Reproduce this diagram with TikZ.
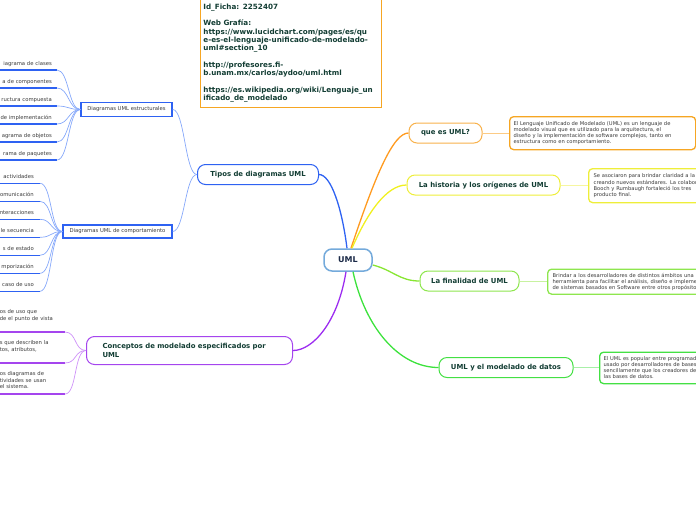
\documentclass[tikz,border=0pt]{standalone}
\usepackage{fontspec}
\setmainfont{DejaVu Sans}
\definecolor{titlec}{HTML}{123D33}
\definecolor{umltext}{HTML}{1B2A48}
\definecolor{descc}{HTML}{3A3A3A}
\definecolor{orgL}{HTML}{FF9A1F}
\definecolor{orgB}{HTML}{F8B24C}
\definecolor{orgD}{HTML}{F6A623}
\definecolor{orgS}{HTML}{FCCB85}
\definecolor{yelL}{HTML}{F0F020}
\definecolor{yelB}{HTML}{EEEE3A}
\definecolor{yelS}{HTML}{F6F6A0}
\definecolor{lgrL}{HTML}{88E632}
\definecolor{lgrB}{HTML}{8EE64E}
\definecolor{lgrS}{HTML}{C8F2A0}
\definecolor{grnL}{HTML}{3CE23C}
\definecolor{grnB}{HTML}{44E044}
\definecolor{grnS}{HTML}{A8F0A8}
\definecolor{bluL}{HTML}{2E62F2}
\definecolor{bluB}{HTML}{2E62F2}
\definecolor{bluS}{HTML}{86A8FA}
\definecolor{purL}{HTML}{9C2CF0}
\definecolor{purB}{HTML}{A545EE}
\definecolor{purS}{HTML}{CE92F8}
\definecolor{umlB}{HTML}{74AADB}
\begin{document}
\begin{tikzpicture}[x=1pt,y=-1pt,
  topic/.style={draw, rounded corners=8pt, line width=1pt, fill=white, text=titlec,
    font=\fontsize{6.9}{9.3}\selectfont\bfseries, inner sep=0pt, minimum height=20pt},
  desc/.style={draw, rounded corners=4pt, line width=1.3pt, fill=white, text=descc,
    font=\fontsize{5.2}{6.1}\selectfont, align=left, anchor=north west, inner xsep=4pt, inner ysep=0pt},
  subtopic/.style={draw=bluB, line width=1.4pt, fill=white, text=descc,
    font=\fontsize{5.3}{6.3}\selectfont, inner sep=0pt},
  bleaf/.style={anchor=south east, inner xsep=5pt, inner ysep=3pt, text height=4pt, text depth=1.3pt,
    text width=80pt, align=right, text=descc, font=\fontsize{5.3}{6.3}\selectfont},
  pleaf/.style={anchor=south east, inner xsep=5pt, inner ysep=3pt,
    text width=60pt, align=left, text=descc, font=\fontsize{5.3}{6.5}\selectfont},
  mainline/.style={line width=1.3pt},
  subline/.style={line width=1pt},
  leafline/.style={line width=0.7pt},
  uline/.style={line width=1.6pt}]
\useasboundingbox (0,0) rectangle (696,520);
\clip (0,0) rectangle (696,520);

% info box
\node[draw=orgD, line width=0.8pt, fill=white, anchor=south west, text width=175pt, align=left,
  inner xsep=3pt, inner ysep=5pt, text=titlec, font=\fontsize{7.2}{8.35}\selectfont\bfseries] (info) at (200,108)
  {Id\_Ficha: 2252407\\[8.35pt]
   Web Grafía:\\
   https://www.lucidchart.com/pages/es/qu\\
   e-es-el-lenguaje-unificado-de-modelado-\\
   uml\#section\_10\\[8.35pt]
   http://profesores.fi-\\
   b.unam.mx/carlos/aydoo/uml.html\\[8.35pt]
   https://es.wikipedia.org/wiki/Lenguaje\_un\\
   ificado\_de\_modelado};

% central node
\node[draw=umlB, line width=1.5pt, rounded corners=8pt, fill=white, text=umltext,
  font=\fontsize{8}{9}\selectfont\bfseries, minimum width=48pt, minimum height=22pt, inner sep=0pt] (uml) at (348,260) {UML};

% topics
\node[topic, draw=orgB, minimum width=73pt] (qes) at (445.5,133) {que es UML?};
\node[topic, draw=yelB, minimum width=153pt] (hist) at (483.5,185) {La historia y los orígenes de UML};
\node[topic, draw=lgrB, minimum width=99pt] (fin) at (469.5,281) {La finalidad de UML};
\node[topic, draw=grnB, minimum width=134pt] (mod) at (506,367.5) {UML y el modelado de datos};
\node[topic, draw=bluB, minimum width=121pt] (tipos) at (258,174.5) {Tipos de diagramas UML};
\node[topic, draw=purB, minimum width=206pt, minimum height=28pt, text width=174pt, align=left, inner xsep=16pt] (conc) at (189.5,350.5)
  {Conceptos de modelado especificados por\\UML};

% descriptions
\node[desc, draw=orgD, text width=178pt, minimum height=33pt] (qesd) at (509,116)
  {El Lenguaje Unificado de Modelado (UML) es un lenguaje de\\
   modelado visual que es utilizado para la arquitectura, el\\
   diseño y la implementación de software complejos, tanto en\\
   estructura como en comportamiento.};
\node[desc, draw=yelB, text width=200pt, minimum height=34pt, inner xsep=5pt] (histd) at (588,168)
  {Se asociaron para brindar claridad a la\\
   creando nuevos estándares. La colaboración\\
   Booch y Rumbaugh fortaleció los tres\\
   producto final.};
\node[desc, draw=lgrB, text width=200pt, minimum height=25pt, inner xsep=5pt] (find) at (547,268.5)
  {Brindar a los desarrolladores de distintos ámbitos una\\
   herramienta para facilitar el análisis, diseño e implementación\\
   de sistemas basados en Software entre otros propósitos};
\node[desc, draw=grnB, text width=200pt, minimum height=31.5pt] (modd) at (599,351.5)
  {El UML es popular entre programadores\\
   usado por desarrolladores de bases de datos\\
   sencillamente que los creadores de\\
   las bases de datos.};

% sub topics
\node[subtopic, minimum width=91pt, minimum height=13.5pt] (struct) at (126.5,109.5) {Diagramas UML estructurales};
\node[subtopic, minimum width=109pt, minimum height=13pt] (comp) at (117.5,231.5) {Diagramas UML de comportamiento};

% main connectors
\draw[mainline, draw=orgL] ([xshift=3pt]uml.north) .. controls +(25,-75) and +(-15,0) .. (qes.west);
\draw[mainline, draw=yelL] ([xshift=4pt]uml.north) .. controls +(15,-35) and +(-20,0) .. (hist.west);
\draw[mainline, draw=bluL] (tipos.east) .. controls +(12,0) and +(-5,-40) .. ([xshift=-1pt]uml.north);
\draw[mainline, draw=lgrL] ([yshift=-5pt]uml.east) .. controls +(20,5) and +(-20,0) .. (fin.west);
\draw[mainline, draw=grnL] ([xshift=5pt]uml.south) .. controls +(12,55) and +(-40,0) .. (mod.west);
\draw[mainline, draw=purL] ([xshift=-2pt]uml.south) .. controls +(-8,50) and +(20,0) .. (conc.east);

% secondary connectors
\draw[subline, draw=orgS] (qes.east) -- (qesd.west |- qes.east);
\draw[subline, draw=yelS] (hist.east) -- (histd.west |- hist.east);
\draw[subline, draw=lgrS] (fin.east) -- (find.west |- fin.east);
\draw[subline, draw=grnS] (mod.east) -- (modd.west |- mod.east);
\draw[leafline, draw=bluS] (tipos.west) .. controls +(-12,0) and +(12,0) .. (struct.east);
\draw[leafline, draw=bluS] (tipos.west) .. controls +(-12,0) and +(12,0) .. (comp.east);

% structural leaves
\foreach \i/\t in {1/iagrama de clases, 2/a de componentes, 3/ructura compuesta,
                   4/de implementación, 5/agrama de objetos, 6/rama de paquetes}{
  \node[bleaf] (s\i) at (57,{52+18*\i}) {\t};
  \draw[uline, draw=bluB] (s\i.south west) -- (s\i.south east);
  \draw[leafline, draw=bluS] (s\i.south east) .. controls +(12,0) and +(-12,0) .. (struct.west);
}
% behaviour leaves
\foreach \i/\t in {1/actividades, 2/omunicación, 3/nteracciones, 4/le secuencia,
                   5/s de estado, 6/mporización, 7/caso de uso}{
  \node[bleaf, inner xsep=6pt] (b\i) at (40,{165.3+18*\i}) {\t};
  \draw[uline, draw=bluB] (b\i.south west) -- (b\i.south east);
  \draw[leafline, draw=bluS] (b\i.south east) .. controls +(12,0) and +(-12,0) .. (comp.west);
}
% concept leaves
\node[pleaf] (p1) at (65,332) {os de uso que\\de el punto de vista\\\strut};
\node[pleaf] (p2) at (65,363) {s que describen la\\tos, atributos,\\\strut};
\node[pleaf] (p3) at (65,394) {os diagramas de\\tividades se usan\\el sistema.\strut};
\foreach \p in {p1,p2,p3}{
  \draw[uline, draw=purB] (\p.south west) -- (\p.south east);
  \draw[leafline, draw=purS] (\p.south east) .. controls +(12,0) and +(-12,0) .. (conc.west);
}
\end{tikzpicture}
\end{document}
